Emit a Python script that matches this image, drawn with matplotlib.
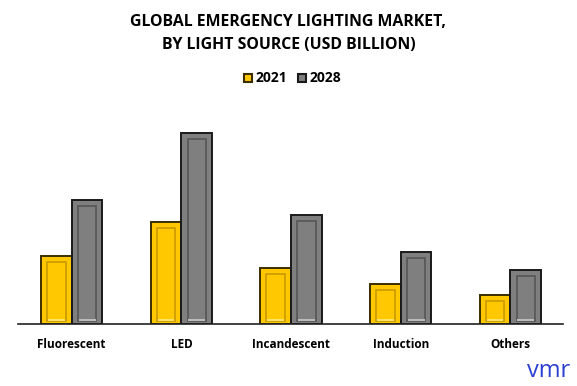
import numpy as np
import matplotlib.pyplot as plt
from matplotlib.patches import Rectangle

categories = ["Fluorescent", "LED", "Incandescent", "Induction", "Others"]
vals_2021 = [1.70, 2.55, 1.40, 1.00, 0.73]
vals_2028 = [3.10, 4.78, 2.73, 1.80, 1.35]

plt.rcParams['font.family'] = ['Open Sans', 'DejaVu Sans']

fig = plt.figure(figsize=(5.77, 3.86), dpi=100)
ax = fig.add_axes([18 / 577, 1 - 324 / 386, (563 - 18) / 577, 214 / 386])

x = np.arange(len(categories))
w = 0.28

styles = [
    (vals_2021, "#FFC800", "#3a2e00", "#C99A00", "#FFE36A", -w / 2),
    (vals_2028, "#7F7F7F", "#1a1a1a", "#555555", "#BDBDBD", w / 2),
]
for vals, fc, ec, inner, hi, off in styles:
    ax.bar(x + off, vals, width=w, color=fc, edgecolor=ec, linewidth=1.4, zorder=2)
    # inner bevel
    ax.bar(x + off, np.array(vals) - 0.24, bottom=0.08, width=w * 0.6,
           color="none", edgecolor=inner, linewidth=1.2, zorder=3)
    ax.bar(x + off, 0.05, bottom=0.08, width=w * 0.55, color=hi,
           edgecolor="none", zorder=4)

ax.set_xlim(-0.49, 4.48)
ax.set_ylim(0, 5.35)
ax.set_xticks(x)
ax.set_xticklabels(categories, fontsize=8.5, fontweight="bold")
ax.tick_params(axis="x", length=0, pad=10)
ax.set_yticks([])
for s in ["left", "right", "top"]:
    ax.spines[s].set_visible(False)
ax.spines["bottom"].set_linewidth(1.2)
ax.spines["bottom"].set_color("#222222")

fig.text(0.5, 1 - 22 / 386, "GLOBAL EMERGENCY LIGHTING MARKET,", ha="center", va="center",
         fontsize=11.4, fontweight="bold")
fig.text(0.5, 1 - 45 / 386, "BY LIGHT SOURCE (USD BILLION)", ha="center", va="center",
         fontsize=11.4, fontweight="bold")

# legend
ly = 1 - 78 / 386
for lx, fc, inner, lab in [(244, "#FFC800", "#3a2e00", "2021"), (298, "#7F7F7F", "#1a1a1a", "2028")]:
    fig.patches.append(Rectangle((lx / 577, ly - 4 / 386), 8 / 577, 8 / 386,
                                 facecolor=fc, edgecolor=inner, linewidth=1.5,
                                 transform=fig.transFigure))
    fig.text((lx + 12) / 577, ly, lab, ha="left", va="center", fontsize=10, fontweight="bold")

fig.text(549 / 577, 1 - 371 / 386, "vmr", ha="center", va="center", fontsize=17,
         color="#2B3FD0")

fig.savefig("out.png", dpi=100)
